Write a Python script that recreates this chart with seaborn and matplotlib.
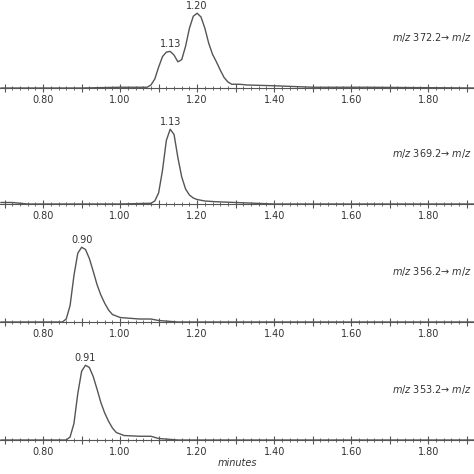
import numpy as np
import matplotlib
matplotlib.use("Agg")
import matplotlib.pyplot as plt
import seaborn as sns
from matplotlib.ticker import MultipleLocator

# hand-read chromatogram traces (minutes, relative intensity)
t1 = [0.69, 0.90, 1.00, 1.07, 1.08, 1.09, 1.10, 1.11, 1.12, 1.13, 1.14, 1.15, 1.16, 1.17, 1.18, 1.19, 1.20, 1.21, 1.22, 1.23, 1.24, 1.25, 1.26, 1.27, 1.28, 1.29, 1.31, 1.33, 1.40, 1.50, 1.64, 1.92]
y1 = [0.0, 0.0, 0.01, 0.01, 0.04, 0.12, 0.28, 0.42, 0.48, 0.49, 0.44, 0.35, 0.38, 0.56, 0.80, 0.96, 1.0, 0.95, 0.80, 0.60, 0.45, 0.35, 0.24, 0.14, 0.08, 0.05, 0.05, 0.04, 0.03, 0.01, 0.01, 0.0]
t2 = [0.69, 0.72, 0.76, 1.00, 1.08, 1.09, 1.10, 1.11, 1.12, 1.13, 1.14, 1.15, 1.16, 1.17, 1.18, 1.19, 1.20, 1.22, 1.25, 1.30, 1.40, 1.92]
y2 = [0.02, 0.02, 0.0, 0.0, 0.01, 0.04, 0.15, 0.45, 0.85, 1.0, 0.93, 0.62, 0.36, 0.20, 0.12, 0.08, 0.06, 0.04, 0.03, 0.02, 0.0, 0.0]
t3 = [0.69, 0.85, 0.86, 0.87, 0.88, 0.89, 0.90, 0.91, 0.92, 0.93, 0.94, 0.95, 0.96, 0.97, 0.98, 1.00, 1.05, 1.08, 1.10, 1.15, 1.92]
y3 = [0.0, 0.0, 0.04, 0.22, 0.62, 0.92, 1.0, 0.97, 0.85, 0.68, 0.50, 0.36, 0.25, 0.16, 0.10, 0.06, 0.04, 0.04, 0.02, 0.0, 0.0]
t4 = [0.69, 0.86, 0.87, 0.88, 0.89, 0.90, 0.91, 0.92, 0.93, 0.94, 0.95, 0.96, 0.97, 0.98, 0.99, 1.01, 1.05, 1.08, 1.10, 1.15, 1.92]
y4 = [0.0, 0.0, 0.04, 0.22, 0.62, 0.92, 1.0, 0.97, 0.85, 0.68, 0.50, 0.36, 0.25, 0.16, 0.10, 0.06, 0.05, 0.05, 0.02, 0.0, 0.0]
traces = [(t1, y1), (t2, y2), (t3, y3), (t4, y4)]
peaks = [[(1.13, 0.49, "1.13"), (1.20, 1.0, "1.20")], [(1.13, 1.0, "1.13")],
         [(0.90, 1.0, "0.90")], [(0.91, 1.0, "0.91")]]
transitions = ["372.2", "369.2", "356.2", "353.2"]

sns.set_style("white")
fig = plt.figure(figsize=(4.74, 4.74), dpi=100)
baselines = [88, 204, 322, 440]
for i, (t, y) in enumerate(traces):
    b = 1 - baselines[i] / 474
    ax = fig.add_axes([0, b, 1, 80 / 474])
    sns.lineplot(x=t, y=y, ax=ax, color="#555555", lw=1.0)
    ax.set_xlim(0.688, 1.919)
    ax.set_ylim(0, 1.07)
    for px, py, lab in peaks[i]:
        ax.text(px, py + 0.03, lab, ha="center", va="bottom", fontsize=7, color="#333333")
    ax.text(1.705, 0.68, r"$\it{m/z}$ " + transitions[i] + r"→ $\it{m/z}$",
            fontsize=7, color="#333333", ha="left", va="center")
    for s in ["top", "left", "right"]:
        ax.spines[s].set_visible(False)
    ax.spines["bottom"].set_color("#555555")
    ax.set_yticks([])
    ax.xaxis.set_major_locator(MultipleLocator(0.1))
    ax.xaxis.set_minor_locator(MultipleLocator(0.02))
    ax.xaxis.set_major_formatter(lambda v, p: f"{v:.2f}" if round(v * 10) % 2 == 0 else "")
    ax.tick_params(axis="x", which="major", bottom=True, direction="inout", length=6, width=0.8,
                   color="#555555", labelsize=7, labelcolor="#333333", pad=2)
    ax.tick_params(axis="x", which="minor", bottom=True, direction="inout", length=3, width=0.6,
                   color="#555555")
    ax.set_xlabel("")
    if i == 3:
        ax.set_xlabel("minutes", fontsize=7, style="italic", color="#333333", labelpad=1)

fig.savefig("out.png", dpi=100)
